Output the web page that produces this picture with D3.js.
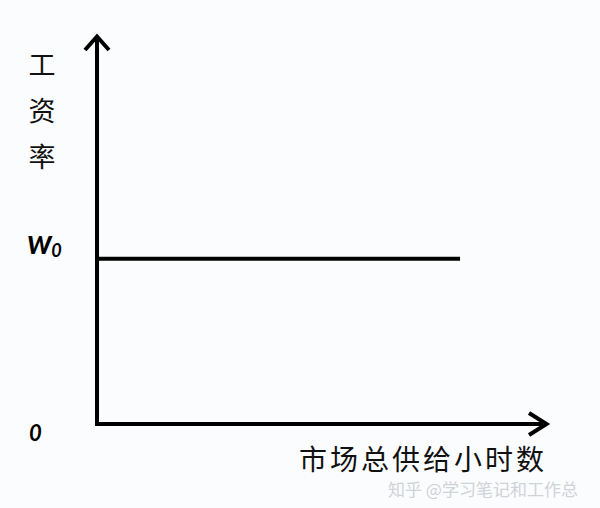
<!DOCTYPE html>
<html><head><meta charset="utf-8">
<script src="https://cdn.jsdelivr.net/npm/d3@7"></script>
<style>
html,body{margin:0;padding:0;background:#fbfcfd;}
svg{display:block;}
</style></head>
<body>
<svg id="chart" width="600" height="508"></svg>
<script>
// Data
const yAxisTitle = ["工", "资", "率"];
const xAxisTitle = "市场总供给小时数";
const wageLabel = "W";
const wageSub = "0";
const originLabel = "0";
const wageLevel = [42.5];           // W0 wage level (y value)
const supplyExtent = [0, 80.5];     // horizontal supply line x range
const axisMax = [100, 100];         // x, y axis max
const watermark = "知乎 @学习笔记和工作总";

const svg = d3.select("#chart");
const x = d3.scaleLinear().domain([0, axisMax[0]]).range([97, 548]);
const y = d3.scaleLinear().domain([0, axisMax[1]]).range([424, 35]);

const g = svg.append("g");
const sw = 4;

// Axes
g.append("line").attr("x1", x(0)).attr("y1", y(0) + sw/2).attr("x2", x(0)).attr("y2", y(axisMax[1]) + 2)
  .attr("stroke", "#000").attr("stroke-width", sw);
g.append("line").attr("x1", x(0) - sw/2).attr("y1", y(0)).attr("x2", x(axisMax[0]) - 2).attr("y2", y(0))
  .attr("stroke", "#000").attr("stroke-width", sw);

// Arrowheads
const up = [[x(0) - 12, y(axisMax[1]) + 15], [x(0), y(axisMax[1]) + 1.5], [x(0) + 12, y(axisMax[1]) + 15]];
const right = [[x(axisMax[0]) - 19, y(0) - 11], [x(axisMax[0]) - 1.5, y(0)], [x(axisMax[0]) - 19, y(0) + 11]];
const line = d3.line();
[up, right].forEach(p => g.append("path").attr("d", line(p)).attr("fill", "none")
  .attr("stroke", "#000").attr("stroke-width", sw).attr("stroke-linejoin", "miter").attr("stroke-linecap", "butt"));

// Supply line at W0
g.selectAll(".supply").data(wageLevel).enter().append("line")
  .attr("x1", x(supplyExtent[0])).attr("x2", x(supplyExtent[1]))
  .attr("y1", d => y(d)).attr("y2", d => y(d))
  .attr("stroke", "#000").attr("stroke-width", sw);

// Y title (vertical chars)
g.selectAll(".yt").data(yAxisTitle).enter().append("text")
  .attr("x", 42).attr("y", (d, i) => 63 + i * 46)
  .attr("text-anchor", "middle").attr("dominant-baseline", "central")
  .attr("font-family", "'Noto Sans CJK SC'").attr("font-size", 27).attr("fill", "#111")
  .text(d => d);

// W0 label
const wt = g.append("text").attr("x", 27).attr("y", y(wageLevel[0]) - 5)
  .attr("font-family", "Lato, 'Open Sans', sans-serif").attr("font-weight", "900").attr("font-style", "italic")
  .attr("font-size", 25).attr("fill", "#000");
wt.append("tspan").text(wageLabel);
wt.append("tspan").attr("font-size", 18).attr("font-weight", "bold").attr("dy", 3).text(wageSub);

// Origin label
g.append("text").attr("x", 29).attr("y", 441)
  .attr("font-family", "Lato, 'Open Sans', sans-serif").attr("font-weight", "bold").attr("font-style", "italic")
  .attr("font-size", 22).attr("fill", "#000").text(originLabel);

// X title
g.append("text").attr("x", 299).attr("y", 470)
  .attr("font-family", "'Noto Sans CJK SC'").attr("font-size", 28).attr("letter-spacing", 3).attr("fill", "#111")
  .text(xAxisTitle);

// Watermark
g.append("text").attr("x", 388).attr("y", 496)
  .attr("font-family", "'Noto Sans CJK SC'").attr("font-size", 17).attr("fill", "#d0d3d8")
  .text(watermark);
</script>
</body></html>
